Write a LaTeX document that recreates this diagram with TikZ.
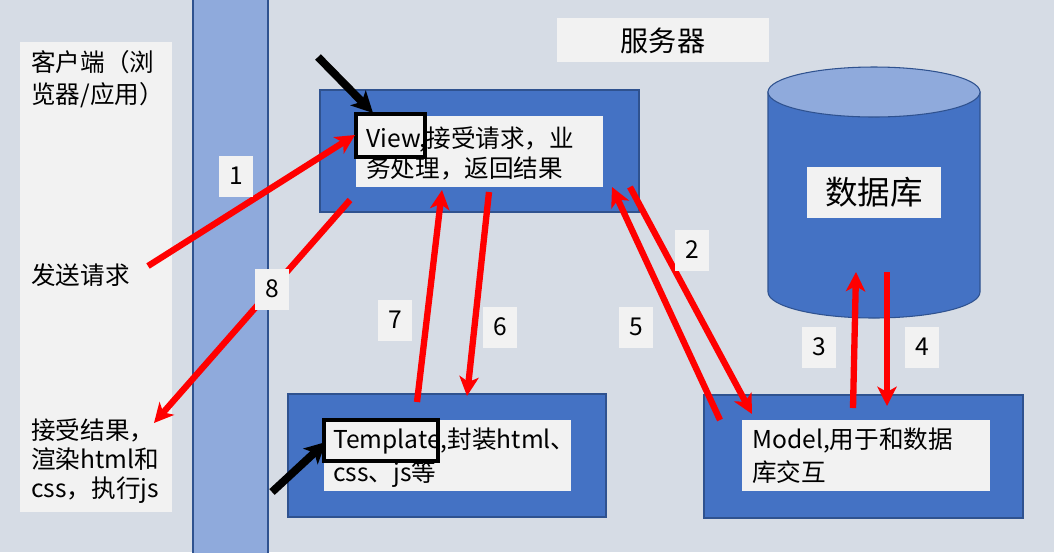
\documentclass[tikz,border=0pt]{standalone}
\usepackage{fontspec}
\setmainfont{Noto Sans CJK SC}
\usetikzlibrary{arrows.meta,fit}
\definecolor{bgpale}{HTML}{D6DCE5}
\definecolor{paper}{HTML}{F2F2F2}
\definecolor{bandblue}{HTML}{8FAADC}
\definecolor{boxblue}{HTML}{4472C4}
\definecolor{edgeblue}{HTML}{2F528F}
\definecolor{arrred}{HTML}{FF0000}

\begin{document}
\begin{tikzpicture}[x=0.02cm, y=-0.02cm,
		outer/.style={fill=boxblue, draw=edgeblue, line width=0.6pt, inner sep=0pt},
		paperbox/.style={fill=paper, inner sep=0pt},
		txt/.style={font=\fontsize{14}{18}\selectfont, align=left, inner sep=0pt, anchor=west},
		numlbl/.style={fill=paper, minimum width=0.68cm, minimum height=0.82cm, inner sep=0pt, font=\fontsize{14}{17}\selectfont},
		flow/.style={-{Stealth[length=11pt,width=11pt,inset=3pt]}, draw=arrred, line width=3.6pt},
		pointer/.style={-{Stealth[length=12pt,width=12pt,inset=3pt]}, draw=black, line width=4.5pt},
		wordbox/.style={draw=black, line width=2pt, inner sep=0pt}]
	\useasboundingbox (0,0) rectangle (1054,552);
	\fill[bgpale] (0,0) rectangle (1054,552);

	% client side
	\node[paperbox, fit={(20,42) (172,512)}] (client) {};
	\node[fill=bandblue, draw=edgeblue, line width=0.6pt, inner sep=0pt, fit={(193,-3) (268,555)}] (band) {};
	\node[txt] (clienttxt) at (31,79) {客户端（浏\\览器/应用）};
	\node[txt] (send) at (31,275) {发送请求};
	\node[txt, font=\fontsize{14}{16.5}\selectfont] (recv) at (31,461) {接受结果，\\渲染html和\\css，执行js};

	% server side
	\node[paperbox, fit={(557,18) (769,62)}] (srvbox) {};
	\node[font=\fontsize{16}{18}\selectfont, inner sep=0pt] (srv) at (663,41) {服务器};

	\node[outer, fit={(320,90) (639,212)}] (view) {};
	\node[paperbox, fit={(356,116) (603,187)}] (viewin) {};
	\node[txt, font=\fontsize{14}{17}\selectfont] (viewtxt) at (366,153) {View,接受请求，业\\务处理，返回结果};
	\node[wordbox, fit={(356,114) (425,157)}] (viewword) {};

	\node[outer, fit={(288,394) (606,517)}] (tpl) {};
	\node[paperbox, fit={(324,420) (571,491)}] (tplin) {};
	\node[txt, font=\fontsize{14}{18.7}\selectfont] (tpltxt) at (333,458) {Template,封装html、\\css、js等};
	\node[wordbox, fit={(324,420) (438,461)}] (tplword) {};

	\node[outer, fit={(704,395) (1023,518)}] (model) {};
	\node[paperbox, fit={(742,420) (990,491)}] (modelin) {};
	\node[txt, font=\fontsize{14}{18.7}\selectfont] (modeltxt) at (752,456) {Model,用于和数据\\库交互};

	% database
	\filldraw[fill=boxblue, draw=edgeblue, line width=0.6pt] (768,92) -- (768,292)
		arc[start angle=180, end angle=0, x radius=106, y radius=26] -- (980,92) -- cycle;
	\filldraw[fill=bandblue, draw=edgeblue, line width=0.6pt] (874,92) ellipse [x radius=106, y radius=25];
	\node[paperbox, fit={(807,167) (941,218)}] (dbbox) {};
	\node[font=\fontsize{18.5}{20}\selectfont, inner sep=0pt] (db) at (874,192) {数据库};

	% request / response flow
	\coordinate (s1) at (148,266); \coordinate (e1) at (355,135);
	\coordinate (s2) at (630,187); \coordinate (e2) at (752,414);
	\coordinate (s3) at (853,408); \coordinate (e3) at (856,272);
	\coordinate (s4) at (887,272); \coordinate (e4) at (887,406);
	\coordinate (s5) at (720,420); \coordinate (e5) at (612,187);
	\coordinate (s6) at (489,192); \coordinate (e6) at (467,396);
	\coordinate (s7) at (417,402); \coordinate (e7) at (442,190);
	\coordinate (s8) at (350,200); \coordinate (e8) at (154,423);
	\foreach \i in {1,...,8}
		\draw[flow] (s\i) -- (e\i);

	\foreach \n/\x/\y in {1/236/176, 2/692/250, 3/819/347, 4/922/347,
			5/636/327, 6/500/327, 7/395/320, 8/272/289}
		\node[numlbl] (num\n) at (\x,\y) {\n};

	% pointers
	\coordinate (vp) at (318,57);
	\coordinate (tp) at (272,492);
	\draw[pointer] (vp) -- (373,113);
	\draw[pointer] (tp) -- (326,442);
\end{tikzpicture}
\end{document}
